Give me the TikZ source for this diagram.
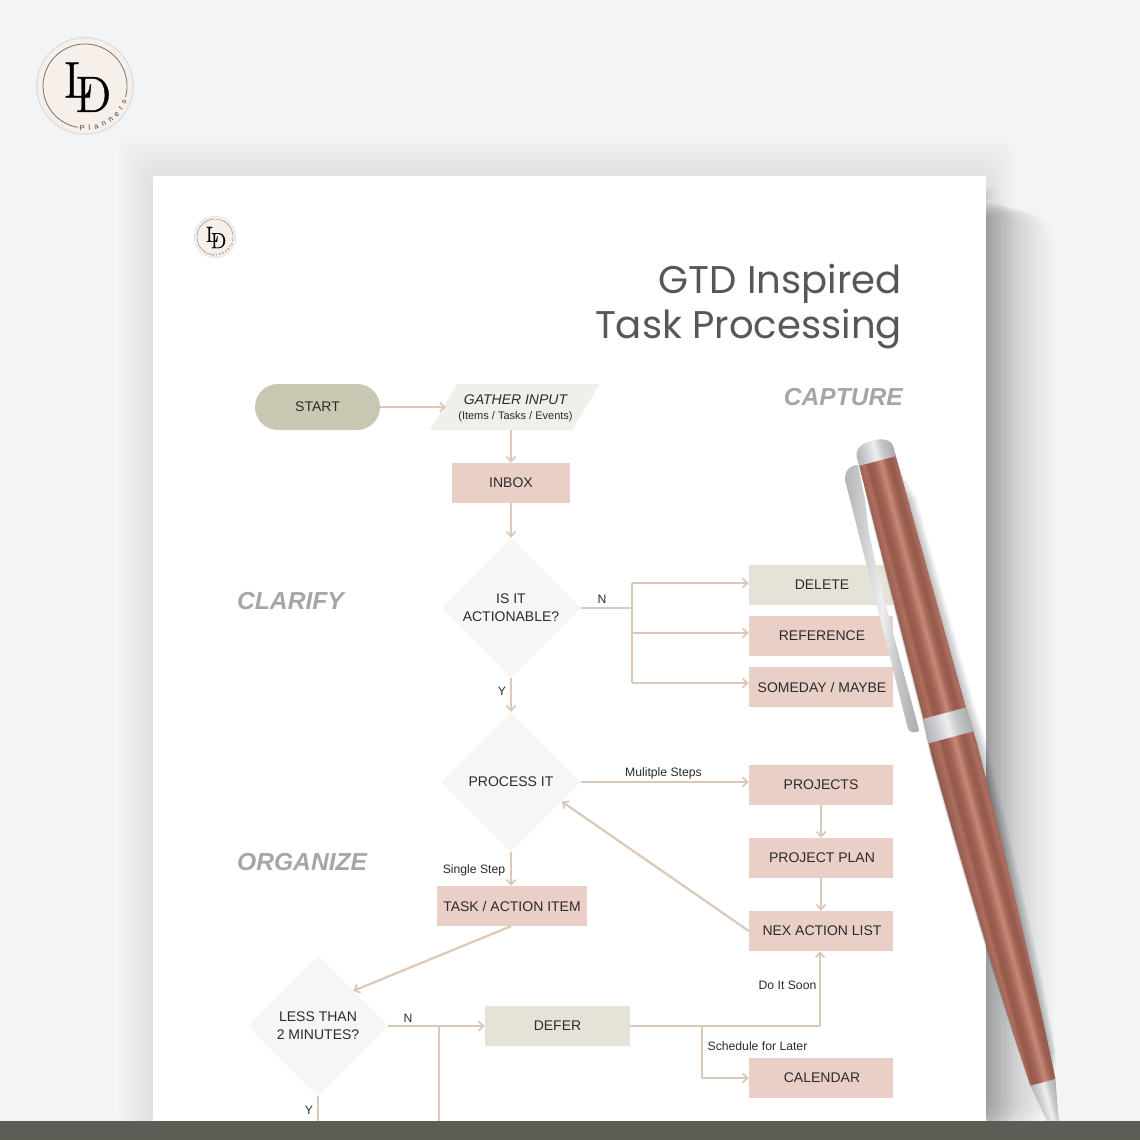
\documentclass[tikz,border=0pt]{standalone}
\usepackage{fontspec}
\setmainfont{Liberation Sans}
\newfontfamily\titlefont{Poppins}
\newfontfamily\logofont[FakeBold=0.7]{Latin Modern Roman}
\usetikzlibrary{shapes.geometric,arrows.meta,decorations.text,calc}
\definecolor{bgc}{HTML}{F3F4F6}
\definecolor{barc}{HTML}{5B5E55}
\definecolor{pinkc}{HTML}{E9CFC6}
\definecolor{sandc}{HTML}{E5E2D8}
\definecolor{startc}{HTML}{C9C6B2}
\definecolor{gatherc}{HTML}{F0EFE9}
\definecolor{diamc}{HTML}{F8F6F4}
\definecolor{linec}{HTML}{DCC8B8}
\definecolor{inkc}{HTML}{2B2B2B}
\definecolor{headc}{HTML}{A8A5A5}
\definecolor{logoc}{HTML}{F6EFEA}
\definecolor{ba}{HTML}{8F584C}
\definecolor{bb}{HTML}{9C6254}
\definecolor{bc}{HTML}{AD6E5E}
\definecolor{bd}{HTML}{96594C}
\definecolor{be}{HTML}{9E6154}
\definecolor{bf}{HTML}{C98877}
\definecolor{bg}{HTML}{A06355}
\definecolor{bh}{HTML}{955A4D}
\definecolor{bi}{HTML}{AC6E60}
\definecolor{bj}{HTML}{A06458}
\definecolor{sa}{HTML}{B4B5B8}
\definecolor{sb}{HTML}{CFD0D2}
\definecolor{sc}{HTML}{EEEEEF}
\definecolor{sd}{HTML}{C6C7C9}
\definecolor{se}{HTML}{ABACAF}
\pgfdeclarehorizontalshading{barrelsh}{100bp}{
 color(0bp)=(ba); color(25bp)=(ba); color(29bp)=(bb);
 color(35bp)=(bc); color(39bp)=(bd); color(45bp)=(be);
 color(53bp)=(bf); color(59bp)=(bg); color(64bp)=(bh);
 color(70bp)=(bi); color(75bp)=(bj); color(100bp)=(bj)}
\pgfdeclarehorizontalshading{silversh}{100bp}{
 color(0bp)=(sa); color(25bp)=(sa); color(38bp)=(sb);
 color(50bp)=(sc); color(60bp)=(sd); color(75bp)=(se); color(100bp)=(se)}
\tikzset{
 boxbase/.style={draw=none,rectangle,inner sep=0pt,minimum height=40pt,text=inkc,font=\fontsize{14}{17}\selectfont,align=center},
 pinkbox/.style={boxbase,fill=pinkc},
 sandbox/.style={boxbase,fill=sandc},
 decision/.style={diamond,aspect=1,fill=diamc,inner sep=0pt,minimum width=140pt,minimum height=140pt,text=inkc,font=\fontsize{14}{18}\selectfont,align=center},
 conn/.style={draw=linec,line width=2.2pt},
 flow/.style={conn,-{Straight Barb[length=5pt,width=9pt,line width=1.7pt]}},
 small/.style={text=inkc,inner sep=0pt,font=\fontsize{12.2}{14}\selectfont},
 phase/.style={text=headc,inner sep=0pt,font=\fontsize{24.6}{28}\selectfont\bfseries\itshape},
 titlestyle/.style={text=black!66,inner sep=0pt,anchor=east,font=\fontsize{38.6}{44}\selectfont\titlefont},
}
\newcommand{\ldlogo}[4]{%
 \pgfmathsetmacro{\lgbig}{#3*51}%
 \pgfmathsetmacro{\lgsm}{#3*7.5}%
 \begin{scope}[shift={(#1,#2)}]
  \fill[black!12] (0,0) circle ({#3*49pt});
  \fill[logoc] (0,0) circle ({#3*47.5pt});
  \draw[black!55,line width={#3*.8pt}] (-15:{#3*42pt}) arc[start angle=-15,end angle=260,radius={#3*42pt}];
  \node[inner sep=0pt,text=black,font=\fontsize{\lgbig}{\lgbig}\selectfont\logofont] (#4L) at ({-#3*7},{-#3*6}) {L};
  \node[inner sep=0pt,text=black,font=\fontsize{\lgbig}{\lgbig}\selectfont\logofont] (#4D) at ({#3*8},{#3*8.5}) {D};
  \path[decorate,decoration={text along path,text align={fit to path},
    text={|\fontsize{\lgsm}{\lgsm}\selectfont\color{black!75}|Planners}}]
     (-97:{#3*44.5pt}) arc[start angle=-97,end angle=-20,radius={#3*44.5pt}];
 \end{scope}}
\begin{document}
\begin{tikzpicture}[x=1pt,y=-1pt]
\useasboundingbox (0,0) rectangle (1140,1140);
\fill[bgc] (0,0) rectangle (1140,1140);
% soft shadows of the sheet
\foreach \i in {1,...,20}{
 \fill[black,opacity=.004,rounded corners=16pt] ({153-1.8*\i},{176-2*\i}) rectangle ({986+1.5*\i},1125);
}
\foreach \i in {1,...,20}{
 \fill[black,opacity=.015,rounded corners=30pt] (975,{186+1.3*\i}) rectangle ({986+.75*\i^1.5},1125);
}
\fill[white] (153,176) rectangle (986,1125);
\ldlogo{85}{86}{1}{a}
\ldlogo{215}{237}{0.43}{b}
% title
\node[titlestyle] (t1) at (902,284) {GTD Inspired};
\node[titlestyle] (t2) at (902,329) {Task Processing};
% phases
\node[phase,anchor=east] (pc) at (903,397) {CAPTURE};
\node[phase,anchor=west] (pl) at (237,601) {CLARIFY};
\node[phase,anchor=west] (po) at (237,862) {ORGANIZE};
% nodes
\node[boxbase,fill=startc,rounded corners=23pt,minimum width=125pt,minimum height=46pt] (start) at (317.5,407) {START};
\fill[gatherc] (457,384) -- (600,384) -- (572,430) -- (430,430) -- cycle;
\coordinate (gw) at (446,407);
\coordinate (gs) at (511,430);
\node[inner sep=0pt,text=inkc,font=\fontsize{14}{17}\selectfont\itshape] (gt1) at (515.5,399.5) {GATHER INPUT};
\node[inner sep=0pt,text=inkc,font=\fontsize{11}{13}\selectfont] (gt2) at (515.5,417) {(Items / Tasks / Events)};
\node[pinkbox,minimum width=118pt] (inbox) at (511,483) {INBOX};
\node[decision] (act) at (511,608) {IS IT\\ACTIONABLE?};
\node[sandbox,minimum width=144pt] (del) at (821,585) {\hspace*{2pt}DELETE};
\node[pinkbox,minimum width=144pt] (ref) at (821,636) {\hspace*{2pt}REFERENCE};
\node[pinkbox,minimum width=144pt] (some) at (821,687) {\hspace*{2pt}SOMEDAY / MAYBE};
\node[decision] (proc) at (511,782) {PROCESS IT};
\node[pinkbox,minimum width=144pt] (proj) at (821,785) {PROJECTS};
\node[pinkbox,minimum width=144pt] (plan) at (821,858) {\hspace*{2pt}PROJECT PLAN};
\node[pinkbox,minimum width=144pt] (next) at (821,931) {\hspace*{2pt}NEX ACTION LIST};
\node[pinkbox,minimum width=150pt] (task) at (512,906) {TASK / ACTION ITEM};
\node[decision] (less) at (318,1026) {LESS THAN\\2 MINUTES?};
\node[sandbox,minimum width=145pt] (defer) at (557.5,1026) {DEFER};
\node[pinkbox,minimum width=144pt] (cal) at (821,1078) {\hspace*{2pt}CALENDAR};
% junctions
\coordinate (ja) at (632,608);
\coordinate (jt) at (632,583);
\coordinate (jm) at (632,633);
\coordinate (jb) at (632,683);
\coordinate (jd) at (702,1026);
\coordinate (jc) at (702,1078);
\coordinate (ju) at (820,1026);
\coordinate (jn) at (439,1026);
\coordinate (en) at (439,1125);
\coordinate (ey) at (318,1125);
% connectors
\draw[flow] (start.east) -- (gw);
\draw[flow] (gs) -- (inbox.north);
\draw[flow] (inbox.south) -- (act.north);
\draw[conn] (act.east) -- (ja);
\draw[conn] (jt) -- (jb);
\draw[flow] (jt) -- (del.west |- jt);
\draw[flow] (jm) -- (ref.west |- jm);
\draw[flow] (jb) -- (some.west |- jb);
\draw[flow] (act.south) -- (proc.north);
\draw[flow] (proc.east) -- (proj.west |- proc.east);
\draw[flow] (proc.south) -- (task.north -| proc.south);
\draw[flow] (task.south -| inbox.south) -- (less.north east);
\draw[flow] (proj.south) -- (plan.north);
\draw[flow] (plan.south) -- (next.north);
\draw[flow] (next.west) -- (proc.-21.6);
\draw[flow] (less.east) -- (defer.west);
\draw[conn] (jn) -- (en);
\draw[conn] (less.south) -- (ey);
\draw[conn] (defer.east) -- (ju);
\draw[flow] (ju) -- (ju |- next.south);
\draw[conn] (jd) -- (jc);
\draw[flow] (jc) -- (cal.west |- jc);
% connector labels
\node[small] (ln1) at (602,599) {N};
\node[small] (ly1) at (502,691) {Y};
\node[small] (lm) at (663.5,773) {Mulitple Steps};
\node[small] (ls) at (474,870) {Single Step};
\node[small] (ld) at (787.5,985.5) {Do It Soon};
\node[small] (lc) at (757.5,1046.5) {Schedule for Later};
\node[small] (ln2) at (408,1018) {N};
\node[small] (ly2) at (309,1110.5) {Y};
% pen clip
\shade[shading=silversh] (845,480) .. controls (845,470) and (850,465) .. (858,465) -- (865,500) -- (869,533) -- (877,570) -- (893,633) -- (918,726) -- (919,731) .. controls (915,733) and (910,733) .. (908,729) -- cycle;
% pen
\begin{scope}[transform canvas={shift={(877pt,-459pt)},rotate=14.9}]
 \foreach \s in {1,...,6}{
  \fill[black,opacity=.04] ({-19-\s*.3},{10+\s*6}) -- ({-22-\s*.3},263) -- ({-23.5-\s*.3},300) .. controls ({-22.5-\s*.3},420) and ({-19-\s*.3},540) .. ({-13-\s*.3},{645-\s*4})
   -- ({13+\s*1.2},{645-\s*4}) .. controls ({19+\s*1.5},540) and ({22.5+\s*1.5},420) .. ({23.5+\s*1.5},300) -- ({22+\s*1.5},263) -- ({19+\s*1.5},{10+\s*6}) -- cycle;
 }
 \shade[shading=silversh] (-13,645) -- (13,645) -- (3,700) -- (-3,700) -- cycle;
 \shade[shading=barrelsh] (-19,0) -- (-22,263) -- (-23.5,300) .. controls (-22.5,420) and (-19,540) .. (-13,645)
   -- (13,645) .. controls (19,540) and (22.5,420) .. (23.5,300) -- (22,263) -- (19,0) -- cycle;
 \shade[shading=silversh] (-22,263) -- (22,263) -- (23,288) -- (-23,288) -- cycle;
 \shade[shading=silversh] (-19,2) -- (19,2) -- (19,-8) .. controls (18,-16) and (10,-19) .. (0,-19) .. controls (-10,-19) and (-18,-16) .. (-19,-8) -- cycle;
\end{scope}
% bottom band
\fill[barc] (0,1121) rectangle (1140,1140);
\end{tikzpicture}
\end{document}
